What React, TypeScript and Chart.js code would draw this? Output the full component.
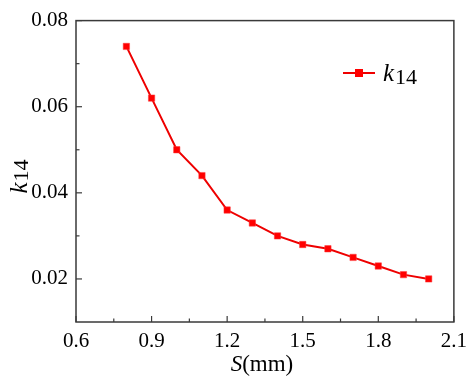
import React, { useEffect, useRef } from "react";
import { Chart, registerables } from "chart.js";

Chart.register(...registerables);

const sValues = [0.8, 0.9, 1.0, 1.1, 1.2, 1.3, 1.4, 1.5, 1.6, 1.7, 1.8, 1.9, 2.0];
const k14Values = [0.074, 0.062, 0.05, 0.044, 0.036, 0.033, 0.03, 0.028, 0.027, 0.025, 0.023, 0.021, 0.02];
const xTicks = [0.6, 0.9, 1.2, 1.5, 1.8, 2.1];
const xMinorTicks = [0.75, 1.05, 1.35, 1.65, 1.95];
const yTicks = [0.02, 0.04, 0.06, 0.08];
const yMinorTicks = [0.03, 0.05, 0.07];
const seriesName = "k14";

const SERIF = "'Liberation Serif', 'DejaVu Serif', serif";
const RED = "#ff0000";
const LINE_RED = "#ee0000";
const FRAME = "#3a3a3a";

function drawSubText(
  ctx: CanvasRenderingContext2D,
  x: number,
  y: number,
  main: string,
  sub: string,
  mainSize: number,
  subSize: number,
  drop: number,
  align: "left" | "center"
) {
  ctx.font = `italic ${mainSize}px ${SERIF}`;
  const w1 = ctx.measureText(main).width;
  ctx.font = `${subSize}px ${SERIF}`;
  const w2 = ctx.measureText(sub).width;
  const start = align === "center" ? x - (w1 + w2) / 2 : x;
  ctx.textBaseline = "alphabetic";
  ctx.textAlign = "left";
  ctx.fillStyle = "#000";
  ctx.font = `italic ${mainSize}px ${SERIF}`;
  ctx.fillText(main, start, y);
  ctx.font = `${subSize}px ${SERIF}`;
  ctx.fillText(sub, start + w1 + 1, y + drop);
}

const decorPlugin = {
  id: "decor",
  afterDraw(chart: any) {
    const ctx: CanvasRenderingContext2D = chart.ctx;
    const { left, right, top, bottom } = chart.chartArea;
    const xs = chart.scales.x;
    const ys = chart.scales.y;
    ctx.save();
    ctx.strokeStyle = FRAME;
    ctx.lineWidth = 1.5;
    ctx.strokeRect(left, top, right - left, bottom - top);
    ctx.lineWidth = 1.2;
    const drawX = (v: number, len: number) => {
      const px = xs.getPixelForValue(v);
      ctx.beginPath();
      ctx.moveTo(px, bottom);
      ctx.lineTo(px, bottom - len);
      ctx.stroke();
    };
    const drawY = (v: number, len: number) => {
      const py = ys.getPixelForValue(v);
      ctx.beginPath();
      ctx.moveTo(left, py);
      ctx.lineTo(left + len, py);
      ctx.stroke();
    };
    xTicks.forEach((v) => drawX(v, 6));
    xMinorTicks.forEach((v) => drawX(v, 3.5));
    yTicks.forEach((v) => drawY(v, 6));
    yMinorTicks.forEach((v) => drawY(v, 3.5));

    // x title
    ctx.font = `italic 23px ${SERIF}`;
    const wS = ctx.measureText("S").width;
    ctx.font = `23px ${SERIF}`;
    const wRest = ctx.measureText("(mm)").width;
    const cx = (left + right) / 2 - 3;
    const sx = cx - (wS + wRest) / 2;
    ctx.fillStyle = "#000";
    ctx.textBaseline = "alphabetic";
    ctx.textAlign = "left";
    ctx.font = `italic 23px ${SERIF}`;
    ctx.fillText("S", sx, 371);
    ctx.font = `23px ${SERIF}`;
    ctx.fillText("(mm)", sx + wS, 371);

    // y title
    ctx.save();
    ctx.translate(27, 177);
    ctx.rotate(-Math.PI / 2);
    drawSubText(ctx, 0, 0, seriesName.charAt(0), seriesName.slice(1), 25, 22, 1, "center");
    ctx.restore();

    // legend
    const ly = 73;
    ctx.strokeStyle = LINE_RED;
    ctx.lineWidth = 2;
    ctx.beginPath();
    ctx.moveTo(343, ly);
    ctx.lineTo(375, ly);
    ctx.stroke();
    ctx.fillStyle = RED;
    ctx.fillRect(359 - 4, ly - 4, 8, 8);
    drawSubText(ctx, 383, 81, seriesName.charAt(0), seriesName.slice(1), 25, 22, 3, "left");
    ctx.restore();
  },
};

export default function App() {
  const ref = useRef<HTMLCanvasElement | null>(null);
  useEffect(() => {
    document.body.style.margin = "0";
    const canvas = ref.current;
    if (!canvas) return;
    const chart = new Chart(canvas, {
      type: "line",
      data: {
        datasets: [
          {
            label: seriesName,
            data: sValues.map((s, i) => ({ x: s, y: k14Values[i] })),
            borderColor: LINE_RED,
            backgroundColor: RED,
            borderWidth: 2,
            pointStyle: "rect",
            pointRadius: 4.5,
            pointBorderWidth: 0.5,
            pointBorderColor: "#ff3b3b",
            pointBackgroundColor: RED,
            tension: 0,
            fill: false,
          },
        ],
      },
      options: {
        animation: false,
        responsive: false,
        devicePixelRatio: 1,
        layout: { padding: { top: 11, right: 13, left: 0, bottom: 0 } },
        plugins: {
          legend: { display: false },
          tooltip: { enabled: false },
          title: { display: false },
        },
        scales: {
          x: {
            type: "linear",
            min: 0.6,
            max: 2.1,
            afterBuildTicks: (scale: any) => {
              scale.ticks = xTicks.map((v) => ({ value: v }));
            },
            afterFit: (scale: any) => {
              scale.height = 55;
            },
            grid: { display: false, drawTicks: false, tickLength: 0 },
            border: { display: false },
            ticks: {
              color: "#000",
              font: { family: SERIF, size: 21 },
              padding: 7,
              maxRotation: 0,
              autoSkip: false,
              callback: (v: any) => Number(v).toFixed(1),
            },
          },
          y: {
            type: "linear",
            min: 0.01,
            max: 0.08,
            afterBuildTicks: (scale: any) => {
              scale.ticks = yTicks.map((v) => ({ value: v }));
            },
            afterFit: (scale: any) => {
              scale.width = 76;
            },
            grid: { display: false, drawTicks: false, tickLength: 0 },
            border: { display: false },
            ticks: {
              color: "#000",
              font: { family: SERIF, size: 21 },
              padding: 8,
              autoSkip: false,
              callback: (v: any) => Number(v).toFixed(2),
            },
          },
        },
      },
      plugins: [decorPlugin],
    } as any);
    return () => chart.destroy();
  }, []);
  return (
    <div style={{ width: 474, height: 377 }}>
      <canvas ref={ref} width={474} height={377} style={{ display: "block", width: 474, height: 377 }} />
    </div>
  );
}
